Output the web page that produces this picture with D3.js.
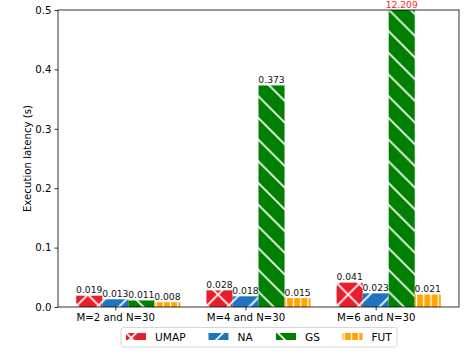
<!DOCTYPE html>
<html><head><meta charset="utf-8">
<script src="https://cdn.jsdelivr.net/npm/d3@7"></script>
<style>body{margin:0;background:#fff}svg{display:block}text{font-family:"DejaVu Sans",sans-serif}</style>
</head><body><svg id="c" width="474" height="364"></svg>
<script>
const categories = ["M=2 and N=30", "M=4 and N=30", "M=6 and N=30"];
const seriesNames = ["UMAP", "NA", "GS", "FUT"];
const UMAP = [0.019, 0.028, 0.041];
const NA = [0.013, 0.018, 0.023];
const GS = [0.011, 0.373, 12.209];
const FUT = [0.008, 0.015, 0.021];
const yTicks = [0.0, 0.1, 0.2, 0.3, 0.4, 0.5];
const colors = ["#ea1d2c", "#1f74c0", "#008000", "#ffa500"];
const hatches = ["x", "/", "\\", "|"];
const series = [UMAP, NA, GS, FUT];
const yMax = 0.5;

const svg = d3.select("#c");
const L = 58, R = 459, T = 10, B = 307;
const x = d3.scaleLinear().domain([-0.44, 2.64]).range([L, R]);
const y = d3.scaleLinear().domain([0, yMax]).range([B, T]);
const bw = 0.2;

const defs = svg.append("defs");
const P = 21.7, ox = 1, oy = 12.5;
function mkPattern(id, color, h) {
  const w = h === "|" ? P / 3 : P;
  const p = defs.append("pattern").attr("id", id).attr("patternUnits", "userSpaceOnUse")
    .attr("width", w).attr("height", P).attr("patternTransform", `translate(${ox},${oy})`);
  p.append("rect").attr("width", w).attr("height", P).attr("fill", color);
  let d = "";
  if (h === "\\" || h === "x") d += `M-1,-1L${P+1},${P+1}M-1,${P-1}L1,${P+1}M${P-1},-1L${P+1},1`;
  if (h === "/" || h === "x") d += `M-1,${P+1}L${P+1},-1M-1,1L1,-1M${P-1},${P+1}L${P+1},${P-1}`;
  if (h === "|") d += `M3.2,-1L3.2,${P+1}`;
  p.append("path").attr("d", d).attr("stroke", "#fff").attr("stroke-width", h === "|" ? 1.3 : 1.7).attr("fill", "none");
}
seriesNames.forEach((s, i) => mkPattern("h" + i, colors[i], hatches[i]));

defs.append("clipPath").attr("id", "clip").append("rect")
  .attr("x", L).attr("y", T).attr("width", R - L).attr("height", B - T);

const g = svg.append("g").attr("clip-path", "url(#clip)");
series.forEach((vals, i) => {
  g.selectAll(null).data(vals).enter().append("rect")
    .attr("x", (v, j) => x(j + (i - 1) * bw - bw / 2))
    .attr("width", x(bw) - x(0))
    .attr("y", v => y(Math.min(v, yMax)))
    .attr("height", v => B - y(Math.min(v, yMax)))
    .attr("fill", `url(#h${i})`);
});

// value labels
series.forEach((vals, i) => {
  svg.selectAll(null).data(vals).enter().append("text")
    .attr("x", (v, j) => x(j + (i - 1) * bw))
    .attr("y", v => y(Math.min(v, yMax)) - 2.5)
    .attr("text-anchor", "middle")
    .attr("font-size", 9.2)
    .attr("fill", v => v > yMax ? "#ff1a1a" : "#111")
    .text(v => v.toFixed(3));
});

// axes
const ya = svg.append("g").attr("transform", `translate(${L},0)`)
  .call(d3.axisLeft(y).tickValues(yTicks).tickFormat(d3.format(".1f")).tickSize(3.5).tickPadding(3));
const xa = svg.append("g").attr("transform", `translate(0,${B})`)
  .call(d3.axisBottom(x).tickValues([0, 1, 2]).tickFormat(i => categories[i]).tickSize(3.5).tickPadding(3));
[ya, xa].forEach(a => {
  a.select(".domain").remove();
  a.selectAll("text").attr("font-size", 10.2).attr("fill", "#000").attr("font-family", "DejaVu Sans");
  a.selectAll("line").attr("stroke", "#000").attr("stroke-width", 0.8);
});
svg.append("rect").attr("x", L).attr("y", T).attr("width", R - L).attr("height", B - T)
  .attr("fill", "none").attr("stroke", "#000").attr("stroke-width", 0.8);

svg.append("text").attr("transform", `translate(31,${(T + B) / 2}) rotate(-90)`)
  .attr("text-anchor", "middle").attr("font-size", 10.2).text("Execution latency (s)");

// legend
const lg = svg.append("g");
lg.append("rect").attr("x", 121).attr("y", 327.5).attr("width", 276).attr("height", 19.5)
  .attr("rx", 2.5).attr("fill", "#fff").attr("stroke", "#ccc").attr("stroke-width", 0.8);
const lx = [126, 208.5, 276, 342.5];
seriesNames.forEach((s, i) => {
  lg.append("rect").attr("x", lx[i]).attr("y", 333).attr("width", 20).attr("height", 7)
    .attr("fill", `url(#h${i})`);
  lg.append("text").attr("x", lx[i] + 29).attr("y", 341).attr("font-size", 10.6).text(s);
});
</script></body></html>
